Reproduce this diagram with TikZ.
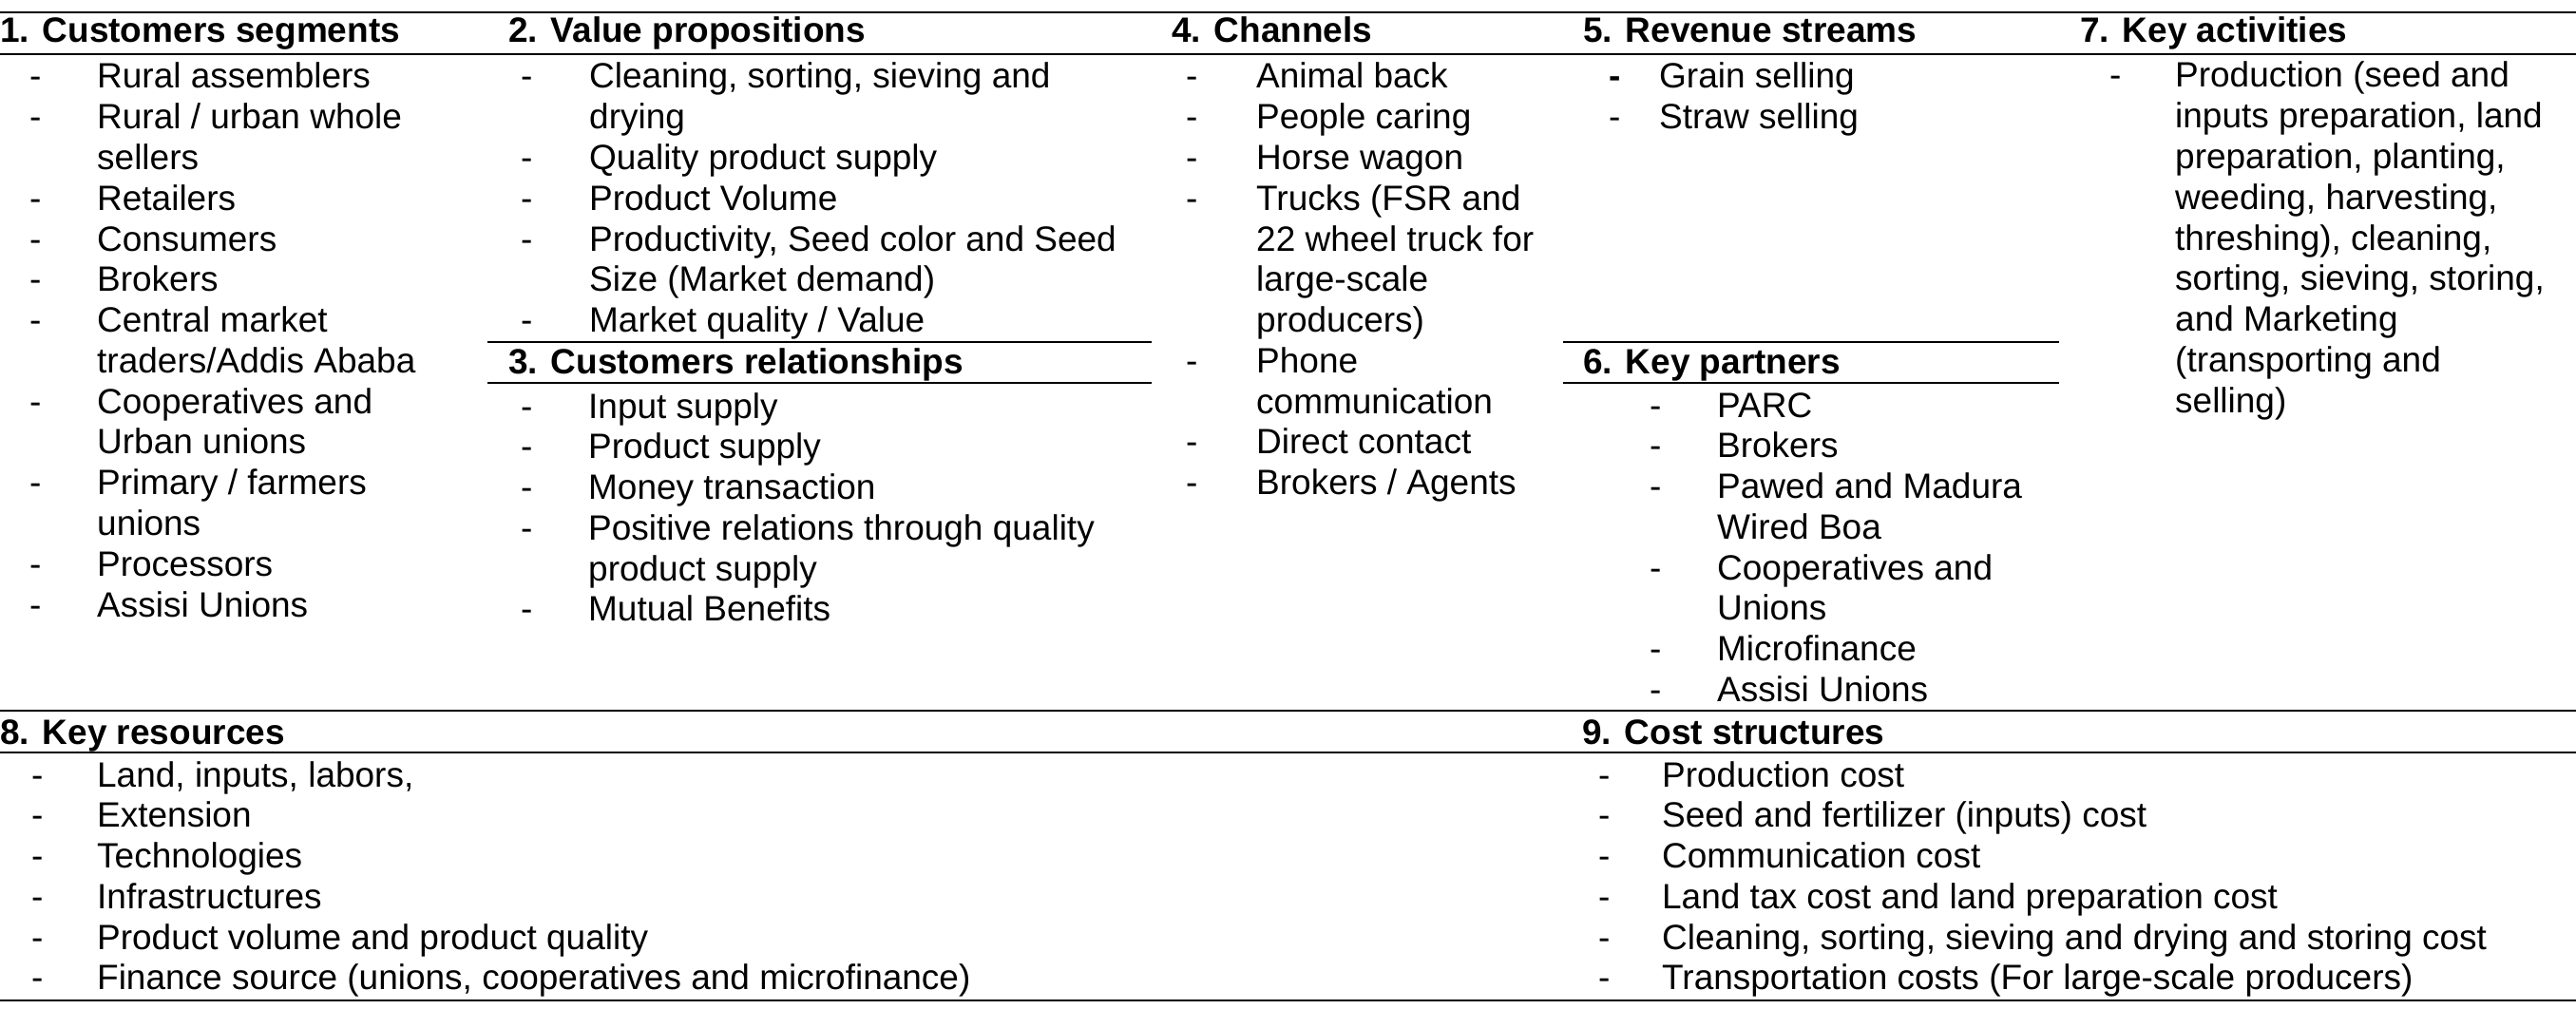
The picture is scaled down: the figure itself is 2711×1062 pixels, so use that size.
\documentclass[tikz,border=0pt]{standalone}
\usepackage{fontspec}
\setmainfont{Liberation Sans}
\newlength\dashx
\newlength\textx
\newcommand\D{\makebox[\textx][l]{\hspace*{\dashx}-}}
\newcommand\BD{\makebox[\textx][l]{\hspace*{\dashx}\textbf{-}}}
\newcommand\C{\hspace*{\textx}}
\tikzset{
  hd/.style={anchor=base west, inner sep=0pt, font=\fontsize{37}{42.77}\selectfont\bfseries},
  body/.style={anchor=base west, inner sep=0pt, font=\fontsize{37}{42.77}\selectfont},
  rule/.style={line width=1.4pt},
  midrule/.style={line width=1.8pt},
  thickrule/.style={line width=2pt}
}
\begin{document}
\begin{tikzpicture}[x=1pt,y=-1pt]
\useasboundingbox (0,0) rectangle (2711,1062);

% rules
\draw[thickrule] (0,13) -- (2711,13);
\draw[rule] (0,57) -- (2711,57);
\draw[midrule] (513,360) -- (1212,360);
\draw[midrule] (513,403) -- (1212,403);
\draw[midrule] (1645,360) -- (2167,360);
\draw[midrule] (1645,403) -- (2167,403);
\draw[thickrule] (0,748) -- (2711,748);
\draw[midrule] (0,792) -- (2711,792);
\draw[rule] (0,1053) -- (2711,1053);

% headers
\node[hd] (h1) at (0,45) {1. Customers segments};
\node[hd] (h2) at (535,45) {2. Value propositions};
\node[hd] (h3) at (535,393) {3. Customers relationships};
\node[hd] (h4) at (1233,45) {4. Channels};
\node[hd] (h5) at (1666,45) {5. Revenue streams};
\node[hd] (h6) at (1666,393) {6. Key partners};
\node[hd] (h7) at (2189,45) {7. Key activities};
\node[hd] (h8) at (0,783) {8. Key resources};
\node[hd] (h9) at (1665,783) {9. Cost structures};

% 1. customers segments
\node[body] (b1) at (0,93) {\setlength\dashx{31pt}\setlength\textx{102pt}%
\begin{tabular}[t]{@{}l@{}}
\D Rural assemblers\\
\D Rural / urban whole\\
\C sellers\\
\D Retailers\\
\D Consumers\\
\D Brokers\\
\D Central market\\
\C traders/Addis Ababa\\
\D Cooperatives and\\
\C Urban unions\\
\D Primary / farmers\\
\C unions\\
\D Processors\\
\D Assisi Unions
\end{tabular}};

% 2. value propositions
\node[body] (b2) at (0,93) {\setlength\dashx{548pt}\setlength\textx{620pt}%
\begin{tabular}[t]{@{}l@{}}
\D Cleaning, sorting, sieving and\\
\C drying\\
\D Quality product supply\\
\D Product Volume\\
\D Productivity, Seed color and Seed\\
\C Size (Market demand)\\
\D Market quality / Value
\end{tabular}};

% 3. customers relationships
\node[body] (b3) at (0,440) {\setlength\dashx{548pt}\setlength\textx{619pt}%
\begin{tabular}[t]{@{}l@{}}
\D Input supply\\
\D Product supply\\
\D Money transaction\\
\D Positive relations through quality\\
\C product supply\\
\D Mutual Benefits
\end{tabular}};

% 4. channels
\node[body] (b4) at (0,93) {\setlength\dashx{1248pt}\setlength\textx{1322pt}%
\begin{tabular}[t]{@{}l@{}}
\D Animal back\\
\D People caring\\
\D Horse wagon\\
\D Trucks (FSR and\\
\C 22 wheel truck for\\
\C large-scale\\
\C producers)\\
\D Phone\\
\C communication\\
\D Direct contact\\
\D Brokers / Agents
\end{tabular}};

% 5. revenue streams
\node[body] (b5) at (0,93) {\setlength\dashx{1693pt}\setlength\textx{1746pt}%
\begin{tabular}[t]{@{}l@{}}
\BD Grain selling\\
\D Straw selling
\end{tabular}};

% 6. key partners
\node[body] (b6) at (0,439) {\setlength\dashx{1736pt}\setlength\textx{1807pt}%
\begin{tabular}[t]{@{}l@{}}
\D PARC\\
\D Brokers\\
\D Pawed and Madura\\
\C Wired Boa\\
\D Cooperatives and\\
\C Unions\\
\D Microfinance\\
\D Assisi Unions
\end{tabular}};

% 7. key activities
\node[body] (b7) at (0,92) {\setlength\dashx{2220pt}\setlength\textx{2289pt}%
\begin{tabular}[t]{@{}l@{}}
\D Production (seed and\\
\C inputs preparation, land\\
\C preparation, planting,\\
\C weeding, harvesting,\\
\C threshing), cleaning,\\
\C sorting, sieving, storing,\\
\C and Marketing\\
\C (transporting and\\
\C selling)
\end{tabular}};

% 8. key resources
\node[body] (b8) at (0,828) {\setlength\dashx{33pt}\setlength\textx{102pt}%
\begin{tabular}[t]{@{}l@{}}
\D Land, inputs, labors,\\
\D Extension\\
\D Technologies\\
\D Infrastructures\\
\D Product volume and product quality\\
\D Finance source (unions, cooperatives and microfinance)
\end{tabular}};

% 9. cost structures
\node[body] (b9) at (0,828) {\setlength\dashx{1682pt}\setlength\textx{1749pt}%
\begin{tabular}[t]{@{}l@{}}
\D Production cost\\
\D Seed and fertilizer (inputs) cost\\
\D Communication cost\\
\D Land tax cost and land preparation cost\\
\D Cleaning, sorting, sieving and drying and storing cost\\
\D Transportation costs (For large-scale producers)
\end{tabular}};
\end{tikzpicture}
\end{document}
